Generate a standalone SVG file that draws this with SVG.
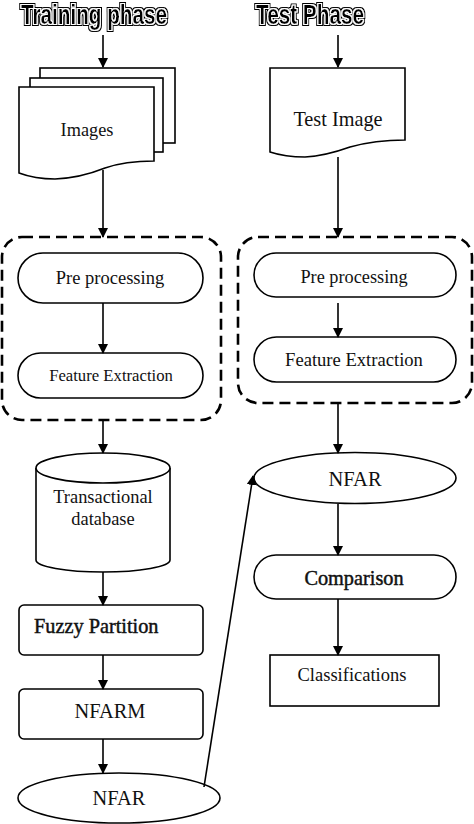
<svg xmlns="http://www.w3.org/2000/svg" width="474" height="824" viewBox="0 0 474 824">
<style>
.s{fill:#fff;stroke:#000;stroke-width:1.6}
.d{fill:none;stroke:#000;stroke-width:2.6;stroke-dasharray:11 6}
.t{font-family:'Liberation Serif',serif;fill:#111;text-anchor:middle}
.m{stroke:#111;stroke-width:0.45}
.h{font-family:'Liberation Sans',sans-serif;font-weight:bold;fill:#000;font-size:27px}
.c line{stroke:#000;stroke-width:1.6}
</style>
<defs>
<marker id="a" markerWidth="10" markerHeight="10" refX="9" refY="5" orient="auto" markerUnits="userSpaceOnUse">
<path d="M0,0 L10,5 L0,10 Z" fill="#000"/>
</marker>
<filter id="o" x="-10%" y="-30%" width="120%" height="160%">
<feMorphology in="SourceAlpha" operator="dilate" radius="2.2" result="d2"/>
<feMorphology in="SourceAlpha" operator="dilate" radius="1.1" result="d1"/>
<feFlood flood-color="#fff" result="w"/>
<feComposite in="w" in2="d1" operator="in" result="wd"/>
<feMerge><feMergeNode in="d2"/><feMergeNode in="wd"/><feMergeNode in="SourceGraphic"/></feMerge>
</filter>
</defs>
<rect width="474" height="824" fill="#fff"/>

<g id="title-training"><text class="h" x="21" y="24" textLength="146" lengthAdjust="spacingAndGlyphs" filter="url(#o)">Training phase</text></g>
<g id="title-test"><text class="h" x="256" y="24" textLength="108" lengthAdjust="spacingAndGlyphs" filter="url(#o)">Test Phase</text></g>

<g font-family="Liberation Serif, serif">
<g id="images">
<rect class="s" x="40" y="68" width="135" height="75"/>
<rect class="s" x="30" y="78" width="133" height="74"/>
<path class="s" d="M19,87 H154 V161 Q125,161 105,168 Q80,178 55,179 Q35,179 19,173 Z"/>
<text class="t" x="87" y="136" font-size="18.3">Images</text>
</g>

<g id="box-left"><rect class="d" x="2" y="237" width="219" height="183" rx="20"/></g>
<g id="pre-left"><rect class="s" x="18" y="253" width="185" height="50" rx="25"/>
<text class="t" x="110" y="284" font-size="18.5">Pre processing</text></g>
<g id="feat-left"><rect class="s" x="18" y="353" width="185" height="45" rx="22.5"/>
<text class="t" x="111" y="381" font-size="16.7">Feature Extraction</text></g>

<g id="db">
<path class="s" d="M36,468 V560 A67,12 0 0 0 170,560 V468"/>
<ellipse class="s" cx="103" cy="468" rx="67" ry="15"/>
<text class="t" x="103" y="503" font-size="18.4">Transactional</text>
<text class="t" x="103" y="525" font-size="18.4">database</text>
</g>

<g id="fuzzy"><rect class="s" x="19" y="605" width="184" height="50" rx="5"/>
<text class="t m" x="34" y="633" font-size="20.3" style="text-anchor:start">Fuzzy Partition</text></g>
<g id="nfarm"><rect class="s" x="19" y="689" width="184" height="50" rx="5"/>
<text class="t" x="110" y="718" font-size="20.4">NFARM</text></g>
<g id="nfar-left"><ellipse class="s" cx="119" cy="798" rx="101" ry="25"/>
<text class="t" x="119" y="805" font-size="20.4">NFAR</text></g>

<g id="testimage">
<path class="s" d="M270,68 H405 V140 Q375,140 350,147 Q325,156 305,157 Q285,157 270,152 Z"/>
<text class="t" x="338" y="126" font-size="20.3">Test Image</text>
</g>

<g id="box-right"><rect class="d" x="238" y="237" width="234" height="166" rx="20"/></g>
<g id="pre-right"><rect class="s" x="254" y="253" width="202" height="44" rx="22"/>
<text class="t" x="354" y="283" font-size="18.3">Pre processing</text></g>
<g id="feat-right"><rect class="s" x="254" y="337" width="202" height="45" rx="22.5"/>
<text class="t" x="354" y="366" font-size="18.6">Feature Extraction</text></g>
<g id="nfar-right"><ellipse class="s" cx="355" cy="478" rx="101" ry="25.5"/>
<text class="t" x="355" y="486" font-size="20.5">NFAR</text></g>
<g id="comparison"><rect class="s" x="254" y="555" width="202" height="44" rx="22"/>
<text class="t m" x="354" y="585" font-size="20.3">Comparison</text></g>
<g id="classifications"><rect class="s" x="270" y="655" width="169" height="51"/>
<text class="t" x="352" y="681" font-size="18.5">Classifications</text></g>
</g>

<g id="connectors" class="c">
<line x1="103" y1="35" x2="103" y2="67" marker-end="url(#a)"/>
<line x1="103" y1="170" x2="103" y2="237" marker-end="url(#a)"/>
<line x1="103" y1="303" x2="103" y2="353" marker-end="url(#a)"/>
<line x1="103" y1="420" x2="103" y2="453" marker-end="url(#a)"/>
<line x1="103" y1="572" x2="103" y2="605" marker-end="url(#a)"/>
<line x1="103" y1="655" x2="103" y2="689" marker-end="url(#a)"/>
<line x1="103" y1="739" x2="103" y2="773" marker-end="url(#a)"/>
<line x1="338" y1="35" x2="338" y2="67" marker-end="url(#a)"/>
<line x1="338" y1="157" x2="338" y2="237" marker-end="url(#a)"/>
<line x1="338" y1="303" x2="338" y2="337" marker-end="url(#a)"/>
<line x1="338" y1="403" x2="338" y2="453" marker-end="url(#a)"/>
<line x1="338" y1="504" x2="338" y2="555" marker-end="url(#a)"/>
<line x1="338" y1="599" x2="338" y2="655" marker-end="url(#a)"/>
<line x1="204" y1="787" x2="253" y2="476" marker-end="url(#a)"/>
</g>
</svg>
